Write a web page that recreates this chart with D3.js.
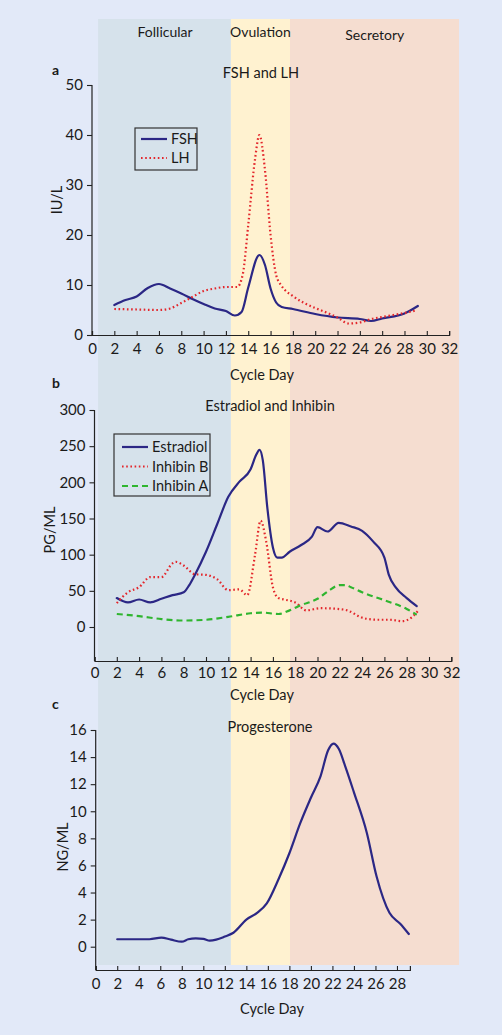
<!DOCTYPE html>
<html lang="en">
<head>
<meta charset="utf-8">
<title>Menstrual cycle hormones</title>
<script src="https://cdn.jsdelivr.net/npm/d3@7"></script>
<style>
  body { margin: 0; background: #e2e9f8; }
  svg text { font-family: Lato, "Open Sans", sans-serif; fill: #1a1a1a; }
</style>
</head>
<body>
<script>
// phase bands, in cycle days of panel a
var phases = ["Follicular", "Ovulation", "Secretory"];
var phaseStart = [0.55, 12.45, 17.75];
var phaseEnd = [12.45, 17.75, 32.9];
var phaseLabelDay = [6.55, 15.1, 25.35];
var phaseColors = ["#d6e2eb", "#fff2d0", "#f5ddd0"];

// panel a: FSH and LH (IU/L)
var fshDays = [2, 3, 4, 5, 6, 7, 8, 9, 10, 11, 12, 12.8, 13.4, 14, 15, 15.5, 16, 16.5, 17, 18, 20, 22, 24, 25, 26, 28, 29.2];
var fshVals = [6, 7, 7.7, 9.4, 10.2, 9.3, 8.3, 7.2, 6.2, 5.3, 4.8, 3.9, 4.6, 9.5, 16, 14, 9.3, 6.5, 5.6, 5.2, 4.2, 3.5, 3.2, 2.8, 3.3, 4.3, 5.8];
var lhDays = [2, 4, 6, 7, 8, 9, 10, 11, 12, 13, 13.5, 14, 14.6, 15, 15.5, 16, 16.5, 17, 18, 19, 20, 21, 22, 23, 24, 25, 26, 27, 28, 29];
var lhVals = [5.2, 5.1, 5, 5.3, 6.4, 7.6, 8.8, 9.3, 9.6, 9.6, 12, 22, 35, 40, 33, 20, 12, 9.8, 7.8, 6.4, 5.4, 4.5, 3.5, 2.3, 2.5, 3.2, 3.6, 4, 4.4, 4.9];

// panel b: estradiol and inhibins (PG/ML)
var e2Days = [2, 3, 4, 5, 6, 7, 8, 8.5, 9, 10, 11, 12, 13, 14, 14.5, 14.8, 15.1, 15.5, 16, 16.4, 16.8, 17.5, 18.5, 19.5, 20, 20.9, 21.9, 23, 24, 25, 26, 26.4, 27, 28, 28.9];
var e2Vals = [40, 34, 38, 34, 39, 44, 48, 58, 72, 104, 142, 180, 201, 218, 238, 245, 230, 165, 110, 96, 96, 104, 113, 125, 138, 132, 144, 139, 133, 118, 96, 72, 55, 40, 29];
var ihbDays = [2, 3, 4, 5, 6, 7, 7.3, 8, 9, 10, 11, 12, 13, 13.7, 14.4, 14.9, 15.4, 16, 16.5, 17, 18, 19, 20.3, 22.4, 24.2, 25.4, 26.5, 27.6, 28.5, 29];
var ihbVals = [33, 48, 55, 69, 69, 88, 90, 85, 73, 72, 66, 51, 52, 44, 100, 147, 118, 55, 40, 38, 34, 23, 26, 24, 12, 10, 10, 8, 14, 22];
var ihaDays = [2, 4, 6, 8, 10, 12, 14, 15, 16.5, 17.5, 18.5, 20, 21, 22, 22.5, 23, 24, 26, 28, 28.9];
var ihaVals = [18, 15, 11, 9, 10, 14, 19, 20, 18, 23, 30, 39, 50, 58, 58, 55, 48, 37, 25, 17];

// panel c: progesterone (NG/ML)
var progDays = [2, 3, 4, 5, 6.1, 7, 8, 8.6, 9.3, 10, 10.6, 11.2, 12, 12.8, 14, 15, 15.9, 17, 18, 19, 20, 20.9, 21.6, 22.1, 22.6, 23.2, 24, 25.2, 26.1, 27.3, 28.3, 29.1];
var progVals = [0.55, 0.55, 0.55, 0.55, 0.67, 0.52, 0.37, 0.55, 0.62, 0.58, 0.45, 0.52, 0.75, 1.03, 2.0, 2.5, 3.2, 5.0, 6.9, 9.1, 11.0, 12.6, 14.5, 15.0, 14.6, 13.3, 11.4, 8.4, 5.2, 2.5, 1.7, 0.94];

var W = 502, H = 1035;
var svg = d3.select("body").append("svg").attr("width", W).attr("height", H);

// shared band geometry
var bandX = d3.scaleLinear().domain([0, 32]).range([92, 449]);
var bandTop = 19, bandBottom = 965;

svg.selectAll("rect.phase")
  .data(phases)
  .enter().append("rect")
  .attr("class", "phase")
  .attr("x", function(d, i) { return bandX(phaseStart[i]); })
  .attr("width", function(d, i) { return bandX(phaseEnd[i]) - bandX(phaseStart[i]); })
  .attr("y", bandTop)
  .attr("height", bandBottom - bandTop)
  .attr("fill", function(d, i) { return phaseColors[i]; });

var phaseLabelY = [37, 37, 40];
svg.selectAll("text.phase")
  .data(phases)
  .enter().append("text")
  .attr("class", "phase")
  .attr("x", function(d, i) { return bandX(phaseLabelDay[i]); })
  .attr("y", function(d, i) { return phaseLabelY[i]; })
  .attr("text-anchor", "middle")
  .attr("font-size", 14)
  .text(function(d) { return d; });

var NAVY = "#2b2785", RED = "#e3262b", GREEN = "#2fb52f";

function panel(cfg) {
  var x = d3.scaleLinear().domain([0, cfg.xMax]).range([cfg.x0, cfg.x0 + cfg.xMax * cfg.xStep]);
  var y = d3.scaleLinear().domain(cfg.yDomain).range([cfg.yBottom, cfg.yTop]);
  var g = svg.append("g");

  var xAxis = d3.axisBottom(x).tickValues(cfg.xTicks).tickSize(-4).tickPadding(cfg.xPad).tickFormat(d3.format("d"));
  var gx = g.append("g").attr("transform", "translate(0," + cfg.yBottom + ")").call(xAxis);
  var yAxis = d3.axisLeft(y).tickValues(cfg.yTicks).tickSize(5).tickPadding(4);
  var gy = g.append("g").attr("transform", "translate(" + cfg.x0 + ",0)").call(yAxis);
  [gx, gy].forEach(function(a) {
    a.select(".domain").attr("stroke", "#222").attr("stroke-width", 1.2);
    a.selectAll(".tick line").attr("stroke", "#222").attr("stroke-width", 1.1);
    a.selectAll(".tick text").attr("font-size", 15).attr("fill", "#1a1a1a")
      .attr("font-family", "Lato, sans-serif");
  });
  gx.selectAll(".tick text").attr("dy", "0.8em");
  gy.select(".domain").attr("d", "M0," + y(cfg.yDomain[1]) + "V" + cfg.yBottom);

  g.append("text").attr("x", cfg.labelX).attr("y", cfg.letterY)
    .attr("font-size", 14).attr("font-weight", "bold").text(cfg.letter);
  g.append("text").attr("x", cfg.titleX).attr("y", cfg.titleY)
    .attr("text-anchor", "middle").attr("font-size", 14.5).text(cfg.title);
  g.append("text").attr("x", cfg.cycleX).attr("y", cfg.cycleY)
    .attr("text-anchor", "middle").attr("font-size", 14.5).text("Cycle Day");
  g.append("text")
    .attr("transform", "translate(" + cfg.yLabelX + "," + cfg.yLabelY + ") rotate(-90)")
    .attr("text-anchor", "middle").attr("font-size", 14.5).text(cfg.yLabel);

  var line = d3.line()
    .x(function(d) { return x(d[0]); })
    .y(function(d) { return y(d[1]); })
    .curve(d3.curveMonotoneX);

  cfg.series.forEach(function(s) {
    var pts = d3.zip(s.days, s.vals);
    g.append("path").datum(pts)
      .attr("d", line)
      .attr("fill", "none")
      .attr("stroke", s.color)
      .attr("stroke-width", s.width)
      .attr("stroke-dasharray", s.dash)
      .attr("stroke-linecap", s.dash ? "butt" : "round");
  });

  if (cfg.legend) {
    var L = cfg.legend;
    var lg = g.append("g").attr("transform", "translate(" + L.x + "," + L.y + ")");
    lg.append("rect").attr("width", L.w).attr("height", L.h)
      .attr("fill", "none").attr("stroke", "#333").attr("stroke-width", 1.2);
    cfg.series.forEach(function(s, i) {
      var yy = L.first + i * L.gap;
      lg.append("line").attr("x1", L.lx).attr("x2", L.lx + 26).attr("y1", yy).attr("y2", yy)
        .attr("stroke", s.color).attr("stroke-width", s.width)
        .attr("stroke-dasharray", s.dash);
      lg.append("text").attr("x", L.lx + 30).attr("y", yy).attr("dy", "0.35em")
        .attr("font-size", 14.5).text(s.name);
    });
  }
}

var evenTicks = d3.range(0, 33, 2);

panel({
  letter: "a", title: "FSH and LH", yLabel: "IU/L",
  x0: 92, xStep: 11.16, xMax: 32, xTicks: evenTicks, xPad: 7,
  yDomain: [0, 50], yTicks: d3.range(0, 51, 10), yTop: 85, yBottom: 335,
  labelX: 52, letterY: 75, titleX: 261, titleY: 78,
  cycleX: 262, cycleY: 380, yLabelX: 62, yLabelY: 200,
  legend: { x: 135, y: 128, w: 62, h: 42, first: 11, gap: 19, lx: 6 },
  series: [
    { name: "FSH", days: fshDays, vals: fshVals, color: NAVY, width: 2.2, dash: null },
    { name: "LH", days: lhDays, vals: lhVals, color: RED, width: 2.2, dash: "1.6,2.6" }
  ]
});

panel({
  letter: "b", title: "Estradiol and Inhibin", yLabel: "PG/ML",
  x0: 94.5, xStep: 11.15, xMax: 32, xTicks: evenTicks, xPad: 5,
  yDomain: [-47, 300], yTicks: d3.range(0, 301, 50), yTop: 410, yBottom: 661,
  labelX: 52, letterY: 388, titleX: 270, titleY: 411,
  cycleX: 262, cycleY: 700, yLabelX: 55, yLabelY: 530,
  legend: { x: 114, y: 434, w: 96, h: 62, first: 13, gap: 19.5, lx: 8 },
  series: [
    { name: "Estradiol", days: e2Days, vals: e2Vals, color: NAVY, width: 2.2, dash: null },
    { name: "Inhibin B", days: ihbDays, vals: ihbVals, color: RED, width: 2.2, dash: "1.6,2.6" },
    { name: "Inhibin A", days: ihaDays, vals: ihaVals, color: GREEN, width: 2.2, dash: "6,4" }
  ]
});

panel({
  letter: "c", title: "Progesterone", yLabel: "NG/ML",
  x0: 95.7, xStep: 10.76, xMax: 29.2, xTicks: d3.range(0, 29, 2), xPad: 7,
  yDomain: [-1.72, 16], yTicks: d3.range(0, 17, 2), yTop: 730, yBottom: 970,
  labelX: 52, letterY: 709, titleX: 270, titleY: 732,
  cycleX: 272, cycleY: 1014, yLabelX: 68, yLabelY: 847,
  legend: null,
  series: [
    { name: "Progesterone", days: progDays, vals: progVals, color: NAVY, width: 2.2, dash: null }
  ]
});
</script>
</body>
</html>
